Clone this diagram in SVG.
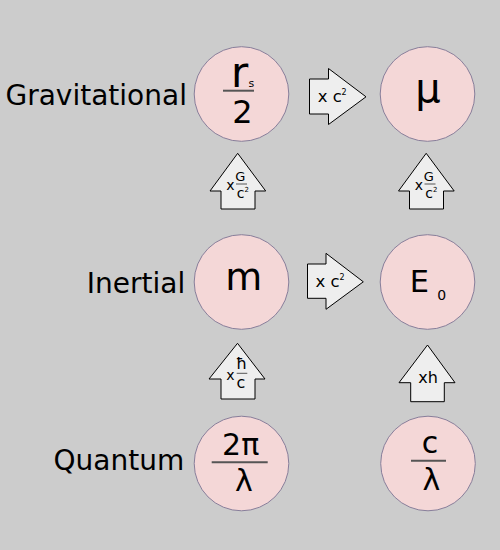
<svg xmlns="http://www.w3.org/2000/svg" width="500" height="550" viewBox="0 0 500 550">
<style>
.node{fill:#f4d7d7;stroke:#877e9a;stroke-width:1}
.arrow{fill:#eeeeee;stroke:#000000;stroke-width:1;stroke-linejoin:miter}
.t{font-family:"DejaVu Sans","Liberation Sans",sans-serif;fill:#000000}
.lbl{font-size:28px}
.bar{stroke:#555555;stroke-width:2}
.sbar{stroke:#555555;stroke-width:1}
</style>
<rect x="0" y="0" width="500" height="550" fill="#cccccc"/>
<g id="labels">
<text class="t lbl" x="5.5" y="105">Gravitational</text>
<text class="t lbl" x="185.3" y="293.3" text-anchor="end">Inertial</text>
<text class="t lbl" x="184.2" y="469.5" text-anchor="end">Quantum</text>
</g>
<g id="connectors">
<g id="a-rs-mu">
<path class="arrow" d="M309.5,79 H328.5 V68.5 L366,96.8 L328.5,124.5 V114 H309.5 Z"/>
<text class="t" x="317.8" y="102.3" font-size="16.5">x c</text>
<text class="t" x="341.5" y="95" font-size="8">2</text>
</g>
<g id="a-m-e0">
<path class="arrow" d="M307.5,264 H326 V253.3 L363.3,281.8 L326,309.3 V298.3 H307.5 Z"/>
<text class="t" x="315.5" y="286.7" font-size="16.5">x c</text>
<text class="t" x="339.5" y="279.5" font-size="8">2</text>
</g>
<g id="a-m-rs">
<path class="arrow" d="M221,209 V191 H210 L237.7,153.3 L265.7,191 H255 V209 Z"/>
<text class="t" x="226.3" y="190" font-size="14">x</text>
<text class="t" x="235.3" y="181" font-size="13">G</text>
<line class="sbar" x1="236" y1="184" x2="247" y2="184"/>
<text class="t" x="236.8" y="197.7" font-size="14">c</text>
<text class="t" x="244.5" y="192" font-size="7">2</text>
</g>
<g id="a-e0-mu">
<path class="arrow" d="M409.5,209 V191 H398.5 L426.2,153.3 L454.2,191 H443.5 V209 Z"/>
<text class="t" x="414.8" y="190" font-size="14">x</text>
<text class="t" x="423.8" y="181" font-size="13">G</text>
<line class="sbar" x1="424.5" y1="184" x2="435.5" y2="184"/>
<text class="t" x="425.3" y="197.7" font-size="14">c</text>
<text class="t" x="433" y="192" font-size="7">2</text>
</g>
<g id="a-q-m">
<path class="arrow" d="M221,399 V379 H209 L237.5,343.3 L265,379 H255 V399 Z"/>
<text class="t" x="226.3" y="380" font-size="14">x</text>
<text class="t" x="236" y="369.3" font-size="16">ħ</text>
<line class="sbar" x1="236.7" y1="373.3" x2="247.3" y2="373.3"/>
<text class="t" x="236.5" y="388.3" font-size="16">c</text>
</g>
<g id="a-q-e0">
<path class="arrow" d="M410.7,401.7 V382.7 H399 L427.5,345 L455,382.7 H444.3 V401.7 Z"/>
<text class="t" x="428" y="383.3" font-size="16" text-anchor="middle">xh</text>
</g>
</g>
<g id="n-rs">
<circle class="node" cx="241.5" cy="94" r="47.3"/>
<text class="t" x="231" y="86.7" font-size="42">r</text>
<text class="t" x="248.5" y="86.7" font-size="11">s</text>
<line class="bar" x1="223" y1="90.7" x2="254" y2="90.7"/>
<text class="t" x="242.5" y="123.3" font-size="32" text-anchor="middle">2</text>
</g>
<g id="n-mu">
<circle class="node" cx="427.5" cy="94" r="47.3"/>
<text class="t" x="428" y="101.5" font-size="40" text-anchor="middle">μ</text>
</g>
<g id="n-m">
<circle class="node" cx="241.5" cy="282" r="47.3"/>
<text class="t" x="243.7" y="290" font-size="38" text-anchor="middle">m</text>
</g>
<g id="n-e0">
<circle class="node" cx="427.5" cy="282" r="47.3"/>
<text class="t" x="409.8" y="291.7" font-size="30.5">E</text>
<text class="t" x="441.7" y="300" font-size="14" text-anchor="middle">0</text>
</g>
<g id="n-2pi">
<circle class="node" cx="241.5" cy="463.5" r="47.3"/>
<text class="t" x="240.7" y="455" font-size="30" text-anchor="middle">2π</text>
<line class="bar" x1="211.7" y1="462.3" x2="267.7" y2="462.3"/>
<text class="t" x="244" y="490.7" font-size="30" text-anchor="middle">λ</text>
</g>
<g id="n-c">
<circle class="node" cx="428" cy="463.5" r="47.3"/>
<text class="t" x="430" y="452.7" font-size="30" text-anchor="middle">c</text>
<line class="bar" x1="411" y1="460.7" x2="446" y2="460.7"/>
<text class="t" x="431.5" y="490" font-size="30" text-anchor="middle">λ</text>
</g>
</svg>
